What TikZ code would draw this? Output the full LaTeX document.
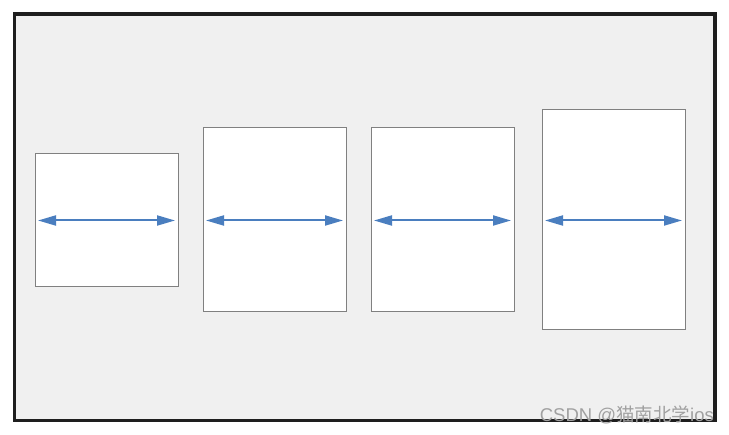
\documentclass[tikz,border=0pt]{standalone}
\usepackage{fontspec}
\setmainfont{Liberation Sans}
\newfontfamily\cjk{Noto Sans CJK SC}
\usetikzlibrary{arrows.meta}
\definecolor{framefill}{HTML}{F0F0F0}
\definecolor{frameline}{HTML}{1E1E1E}
\definecolor{boxline}{HTML}{808080}
\definecolor{arrowblue}{HTML}{4A7EBF}
\definecolor{wmgray}{HTML}{A0A0A0}
\tikzset{
  frame/.style={draw=frameline, fill=framefill, line width=3.2pt},
  panel/.style={draw=boxline, fill=white, line width=1pt},
  widtharrow/.style={draw=arrowblue, line width=2pt, {Triangle[length=18pt,width=10pt]}-{Triangle[length=18pt,width=10pt]}},
  watermark/.style={text=wmgray, font=\fontsize{18.5pt}{20pt}\selectfont, inner sep=0pt, anchor=base east}
}
\begin{document}
\begin{tikzpicture}[x=1pt,y=-1pt]
\useasboundingbox (0,0) rectangle (729,435);
\fill[white] (0,0) rectangle (729,435);
\draw[frame] (14.5,14) rectangle (715,420.5);
% panels
\draw[panel] (35,154) rectangle (178,287);
\draw[panel] (203,128) rectangle (346,312);
\draw[panel] (371,128) rectangle (514,312);
\draw[panel] (542,110) rectangle (685,330);
% arrow ends
\coordinate (a1) at (38,220.5); \coordinate (b1) at (175,220.5);
\coordinate (a2) at (206,220.5); \coordinate (b2) at (343,220.5);
\coordinate (a3) at (374,220.5); \coordinate (b3) at (511,220.5);
\coordinate (a4) at (545,220.5); \coordinate (b4) at (682,220.5);
\draw[widtharrow] (a1) -- (b1);
\draw[widtharrow] (a2) -- (b2);
\draw[widtharrow] (a3) -- (b3);
\draw[widtharrow] (a4) -- (b4);
\node[watermark] (wm) at (714,422) {CSDN @{\cjk 猫南北学}ios};
\end{tikzpicture}
\end{document}
